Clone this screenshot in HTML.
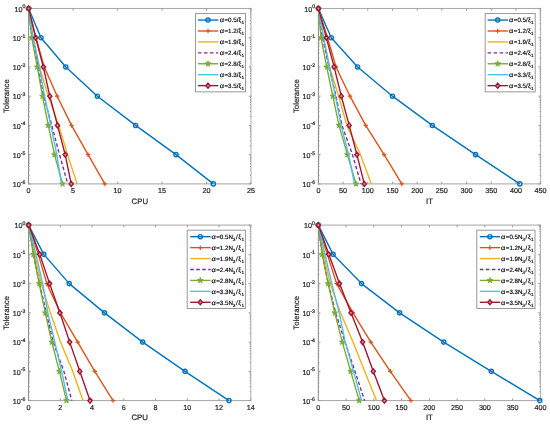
<!DOCTYPE html>
<html><head><meta charset="utf-8"><title>Tolerance plots</title>
<style>html,body{margin:0;padding:0;background:#fff}svg{display:block;text-rendering:geometricPrecision}</style>
</head><body>
<svg width="550" height="424" viewBox="0 0 550 424">
<rect width="550" height="424" fill="#fff"/>
<g stroke="#999999" stroke-width="1.0" fill="none">
<path d="M28.6 7.95V184.4" stroke="#858585"/>
<path d="M28.6 8.45H251.5M28.6 183.9H251.5" stroke="#a4a4a4"/>
<path d="M251 8.45V183.9" stroke="#adadad"/>
<path d="M28.6 183.9v-2.2M28.6 8.45v2.2M73.08 183.9v-2.2M73.08 8.45v2.2M117.56 183.9v-2.2M117.56 8.45v2.2M162.04 183.9v-2.2M162.04 8.45v2.2M206.52 183.9v-2.2M206.52 8.45v2.2M251 183.9v-2.2M251 8.45v2.2M28.6 8.45h2.2M251 8.45h-2.2M28.6 28.89h1.1M251 28.89h-1.1M28.6 23.74h1.1M251 23.74h-1.1M28.6 20.09h1.1M251 20.09h-1.1M28.6 17.25h1.1M251 17.25h-1.1M28.6 14.94h1.1M251 14.94h-1.1M28.6 12.98h1.1M251 12.98h-1.1M28.6 11.28h1.1M251 11.28h-1.1M28.6 9.79h1.1M251 9.79h-1.1M28.6 37.69h2.2M251 37.69h-2.2M28.6 58.13h1.1M251 58.13h-1.1M28.6 52.98h1.1M251 52.98h-1.1M28.6 49.33h1.1M251 49.33h-1.1M28.6 46.49h1.1M251 46.49h-1.1M28.6 44.18h1.1M251 44.18h-1.1M28.6 42.22h1.1M251 42.22h-1.1M28.6 40.53h1.1M251 40.53h-1.1M28.6 39.03h1.1M251 39.03h-1.1M28.6 66.93h2.2M251 66.93h-2.2M28.6 87.37h1.1M251 87.37h-1.1M28.6 82.22h1.1M251 82.22h-1.1M28.6 78.57h1.1M251 78.57h-1.1M28.6 75.74h1.1M251 75.74h-1.1M28.6 73.42h1.1M251 73.42h-1.1M28.6 71.46h1.1M251 71.46h-1.1M28.6 69.77h1.1M251 69.77h-1.1M28.6 68.27h1.1M251 68.27h-1.1M28.6 96.18h2.2M251 96.18h-2.2M28.6 116.61h1.1M251 116.61h-1.1M28.6 111.46h1.1M251 111.46h-1.1M28.6 107.81h1.1M251 107.81h-1.1M28.6 104.98h1.1M251 104.98h-1.1M28.6 102.66h1.1M251 102.66h-1.1M28.6 100.7h1.1M251 100.7h-1.1M28.6 99.01h1.1M251 99.01h-1.1M28.6 97.51h1.1M251 97.51h-1.1M28.6 125.42h2.2M251 125.42h-2.2M28.6 145.86h1.1M251 145.86h-1.1M28.6 140.71h1.1M251 140.71h-1.1M28.6 137.05h1.1M251 137.05h-1.1M28.6 134.22h1.1M251 134.22h-1.1M28.6 131.9h1.1M251 131.9h-1.1M28.6 129.95h1.1M251 129.95h-1.1M28.6 128.25h1.1M251 128.25h-1.1M28.6 126.75h1.1M251 126.75h-1.1M28.6 154.66h2.2M251 154.66h-2.2M28.6 175.1h1.1M251 175.1h-1.1M28.6 169.95h1.1M251 169.95h-1.1M28.6 166.29h1.1M251 166.29h-1.1M28.6 163.46h1.1M251 163.46h-1.1M28.6 161.15h1.1M251 161.15h-1.1M28.6 159.19h1.1M251 159.19h-1.1M28.6 157.49h1.1M251 157.49h-1.1M28.6 156h1.1M251 156h-1.1M28.6 183.9h2.2M251 183.9h-2.2"/>
</g>
<g font-family="Liberation Sans, Arial, Helvetica, sans-serif" fill="#262626" stroke="#262626" stroke-width="0.2" font-size="7.2">
<text x="28.6" y="193.4" text-anchor="middle">0</text>
<text x="73.08" y="193.4" text-anchor="middle">5</text>
<text x="117.56" y="193.4" text-anchor="middle">10</text>
<text x="162.04" y="193.4" text-anchor="middle">15</text>
<text x="206.52" y="193.4" text-anchor="middle">20</text>
<text x="251" y="193.4" text-anchor="middle">25</text>
<text x="25.3" y="11.65" text-anchor="end">10<tspan font-size="5.2" dy="-3.3">0</tspan></text>
<text x="25.3" y="40.89" text-anchor="end">10<tspan font-size="5.2" dy="-3.3">-1</tspan></text>
<text x="25.3" y="70.13" text-anchor="end">10<tspan font-size="5.2" dy="-3.3">-2</tspan></text>
<text x="25.3" y="99.38" text-anchor="end">10<tspan font-size="5.2" dy="-3.3">-3</tspan></text>
<text x="25.3" y="128.62" text-anchor="end">10<tspan font-size="5.2" dy="-3.3">-4</tspan></text>
<text x="25.3" y="157.86" text-anchor="end">10<tspan font-size="5.2" dy="-3.3">-5</tspan></text>
<text x="25.3" y="187.1" text-anchor="end">10<tspan font-size="5.2" dy="-3.3">-6</tspan></text>
</g>
<g font-family="Liberation Sans, Arial, Helvetica, sans-serif" fill="#262626" stroke="#262626" stroke-width="0.2" font-size="7.8">
<text x="139.8" y="203.5" text-anchor="middle">CPU</text>
<text transform="translate(8.7 96.17) rotate(-90)" text-anchor="middle">Tolerance</text>
</g>
<polyline points="28.6,8.45 41,37.69 65.8,66.93 97.4,96.18 135.6,125.42 176,154.66 213.3,183.9" fill="none" stroke="#0072BD" stroke-width="1.38" stroke-linejoin="round"/>
<circle cx="28.6" cy="8.45" r="2.1" fill="none" stroke="#0072BD" stroke-width="1.38"/>
<circle cx="41" cy="37.69" r="2.1" fill="none" stroke="#0072BD" stroke-width="1.38"/>
<circle cx="65.8" cy="66.93" r="2.1" fill="none" stroke="#0072BD" stroke-width="1.38"/>
<circle cx="97.4" cy="96.18" r="2.1" fill="none" stroke="#0072BD" stroke-width="1.38"/>
<circle cx="135.6" cy="125.42" r="2.1" fill="none" stroke="#0072BD" stroke-width="1.38"/>
<circle cx="176" cy="154.66" r="2.1" fill="none" stroke="#0072BD" stroke-width="1.38"/>
<circle cx="213.3" cy="183.9" r="2.1" fill="none" stroke="#0072BD" stroke-width="1.38"/>
<polyline points="28.6,8.45 35.9,37.69 44.2,66.93 57.2,96.18 71.5,125.42 88.1,154.66 104.8,183.9" fill="none" stroke="#D95319" stroke-width="1.38" stroke-linejoin="round"/>
<path d="M26.35 8.45H30.85M28.6 6.2V10.7" stroke="#D95319" stroke-width="1.15" fill="none"/>
<path d="M33.65 37.69H38.15M35.9 35.44V39.94" stroke="#D95319" stroke-width="1.15" fill="none"/>
<path d="M41.95 66.93H46.45M44.2 64.68V69.18" stroke="#D95319" stroke-width="1.15" fill="none"/>
<path d="M54.95 96.18H59.45M57.2 93.93V98.43" stroke="#D95319" stroke-width="1.15" fill="none"/>
<path d="M69.25 125.42H73.75M71.5 123.17V127.67" stroke="#D95319" stroke-width="1.15" fill="none"/>
<path d="M85.85 154.66H90.35M88.1 152.41V156.91" stroke="#D95319" stroke-width="1.15" fill="none"/>
<path d="M102.55 183.9H107.05M104.8 181.65V186.15" stroke="#D95319" stroke-width="1.15" fill="none"/>
<polyline points="28.6,8.45 33.1,37.69 39.4,66.93 48.4,96.18 58.8,125.42 67.5,154.66 77.2,183.9" fill="none" stroke="#EDB120" stroke-width="1.38" stroke-linejoin="round"/>
<polyline points="28.6,8.45 32.5,37.69 38.3,66.93 43.7,96.18 51.8,125.42 59.5,154.66 67.8,183.9" fill="none" stroke="#7E2F8E" stroke-width="1.38" stroke-linejoin="round" stroke-dasharray="3.6 2.4"/>
<polyline points="28.6,8.45 31.7,37.69 37.3,66.93 42.5,96.18 48.3,125.42 54.5,154.66 62.5,183.9" fill="none" stroke="#77AC30" stroke-width="1.38" stroke-linejoin="round"/>
<polygon points="28.6,5.45 29.27,7.52 31.45,7.52 29.69,8.8 30.36,10.88 28.6,9.6 26.84,10.88 27.51,8.8 25.75,7.52 27.93,7.52" fill="#77AC30" stroke="#77AC30" stroke-width="0.9" stroke-linejoin="miter"/>
<polygon points="31.7,34.69 32.37,36.76 34.55,36.76 32.79,38.05 33.46,40.12 31.7,38.84 29.94,40.12 30.61,38.05 28.85,36.76 31.03,36.76" fill="#77AC30" stroke="#77AC30" stroke-width="0.9" stroke-linejoin="miter"/>
<polygon points="37.3,63.93 37.97,66.01 40.15,66.01 38.39,67.29 39.06,69.36 37.3,68.08 35.54,69.36 36.21,67.29 34.45,66.01 36.63,66.01" fill="#77AC30" stroke="#77AC30" stroke-width="0.9" stroke-linejoin="miter"/>
<polygon points="42.5,93.18 43.17,95.25 45.35,95.25 43.59,96.53 44.26,98.6 42.5,97.32 40.74,98.6 41.41,96.53 39.65,95.25 41.83,95.25" fill="#77AC30" stroke="#77AC30" stroke-width="0.9" stroke-linejoin="miter"/>
<polygon points="48.3,122.42 48.97,124.49 51.15,124.49 49.39,125.77 50.06,127.84 48.3,126.56 46.54,127.84 47.21,125.77 45.45,124.49 47.63,124.49" fill="#77AC30" stroke="#77AC30" stroke-width="0.9" stroke-linejoin="miter"/>
<polygon points="54.5,151.66 55.17,153.73 57.35,153.73 55.59,155.01 56.26,157.09 54.5,155.8 52.74,157.09 53.41,155.01 51.65,153.73 53.83,153.73" fill="#77AC30" stroke="#77AC30" stroke-width="0.9" stroke-linejoin="miter"/>
<polygon points="62.5,180.9 63.17,182.97 65.35,182.97 63.59,184.25 64.26,186.33 62.5,185.05 60.74,186.33 61.41,184.25 59.65,182.97 61.83,182.97" fill="#77AC30" stroke="#77AC30" stroke-width="0.9" stroke-linejoin="miter"/>
<polyline points="28.6,8.45 33.1,37.69 39.3,66.93 44.6,96.18 50.8,125.42 56.8,154.66 61.5,183.9" fill="none" stroke="#4DBEEE" stroke-width="1.38" stroke-linejoin="round"/>
<polyline points="28.6,8.45 35.7,37.69 43.3,66.93 49.8,96.18 57.5,125.42 65.2,154.66 71.2,183.9" fill="none" stroke="#A2142F" stroke-width="1.38" stroke-linejoin="round"/>
<path d="M28.6 5.95L30.7 8.45L28.6 10.95L26.5 8.45Z" fill="#d4909b" stroke="#A2142F" stroke-width="1.38" stroke-linejoin="miter"/>
<path d="M35.7 35.19L37.8 37.69L35.7 40.19L33.6 37.69Z" fill="#d4909b" stroke="#A2142F" stroke-width="1.38" stroke-linejoin="miter"/>
<path d="M43.3 64.43L45.4 66.93L43.3 69.43L41.2 66.93Z" fill="#d4909b" stroke="#A2142F" stroke-width="1.38" stroke-linejoin="miter"/>
<path d="M49.8 93.68L51.9 96.18L49.8 98.68L47.7 96.18Z" fill="#d4909b" stroke="#A2142F" stroke-width="1.38" stroke-linejoin="miter"/>
<path d="M57.5 122.92L59.6 125.42L57.5 127.92L55.4 125.42Z" fill="#d4909b" stroke="#A2142F" stroke-width="1.38" stroke-linejoin="miter"/>
<path d="M65.2 152.16L67.3 154.66L65.2 157.16L63.1 154.66Z" fill="#d4909b" stroke="#A2142F" stroke-width="1.38" stroke-linejoin="miter"/>
<path d="M71.2 181.4L73.3 183.9L71.2 186.4L69.1 183.9Z" fill="#d4909b" stroke="#A2142F" stroke-width="1.38" stroke-linejoin="miter"/>
<rect x="195.5" y="13.55" width="50" height="78.3" fill="#fff" stroke="#999999" stroke-width="1.0"/>
<path d="M197.9 20.05H218.3" stroke="#0072BD" stroke-width="1.38"/>
<circle cx="208" cy="20.05" r="2.1" fill="none" stroke="#0072BD" stroke-width="1.38"/>
<text font-family="Liberation Sans, Arial, Helvetica, sans-serif" font-size="6.2" fill="#000" stroke="#000" stroke-width="0.15" y="22.35"><tspan x="219.8" font-size="6.5" textLength="4.3" lengthAdjust="spacingAndGlyphs">α</tspan><tspan x="224.5">=0.5/</tspan><tspan x="238.6">ξ</tspan><tspan x="241.6" dy="2.0" font-size="4.7">1</tspan></text>
<path d="M197.9 30.98H218.3" stroke="#D95319" stroke-width="1.38"/>
<path d="M205.75 30.98H210.25M208 28.73V33.23" stroke="#D95319" stroke-width="1.15" fill="none"/>
<text font-family="Liberation Sans, Arial, Helvetica, sans-serif" font-size="6.2" fill="#000" stroke="#000" stroke-width="0.15" y="33.28"><tspan x="219.8" font-size="6.5" textLength="4.3" lengthAdjust="spacingAndGlyphs">α</tspan><tspan x="224.5">=1.2/</tspan><tspan x="238.6">ξ</tspan><tspan x="241.6" dy="2.0" font-size="4.7">1</tspan></text>
<path d="M197.9 41.91H218.3" stroke="#EDB120" stroke-width="1.38"/>
<text font-family="Liberation Sans, Arial, Helvetica, sans-serif" font-size="6.2" fill="#000" stroke="#000" stroke-width="0.15" y="44.21"><tspan x="219.8" font-size="6.5" textLength="4.3" lengthAdjust="spacingAndGlyphs">α</tspan><tspan x="224.5">=1.9/</tspan><tspan x="238.6">ξ</tspan><tspan x="241.6" dy="2.0" font-size="4.7">1</tspan></text>
<path d="M197.9 52.84H218.3" stroke="#7E2F8E" stroke-width="1.38" stroke-dasharray="3.6 2.4"/>
<text font-family="Liberation Sans, Arial, Helvetica, sans-serif" font-size="6.2" fill="#000" stroke="#000" stroke-width="0.15" y="55.14"><tspan x="219.8" font-size="6.5" textLength="4.3" lengthAdjust="spacingAndGlyphs">α</tspan><tspan x="224.5">=2.4/</tspan><tspan x="238.6">ξ</tspan><tspan x="241.6" dy="2.0" font-size="4.7">1</tspan></text>
<path d="M197.9 63.77H218.3" stroke="#77AC30" stroke-width="1.38"/>
<polygon points="208,60.77 208.67,62.84 210.85,62.84 209.09,64.12 209.76,66.2 208,64.92 206.24,66.2 206.91,64.12 205.15,62.84 207.33,62.84" fill="#77AC30" stroke="#77AC30" stroke-width="0.9" stroke-linejoin="miter"/>
<text font-family="Liberation Sans, Arial, Helvetica, sans-serif" font-size="6.2" fill="#000" stroke="#000" stroke-width="0.15" y="66.07"><tspan x="219.8" font-size="6.5" textLength="4.3" lengthAdjust="spacingAndGlyphs">α</tspan><tspan x="224.5">=2.8/</tspan><tspan x="238.6">ξ</tspan><tspan x="241.6" dy="2.0" font-size="4.7">1</tspan></text>
<path d="M197.9 74.7H218.3" stroke="#4DBEEE" stroke-width="1.38"/>
<text font-family="Liberation Sans, Arial, Helvetica, sans-serif" font-size="6.2" fill="#000" stroke="#000" stroke-width="0.15" y="77"><tspan x="219.8" font-size="6.5" textLength="4.3" lengthAdjust="spacingAndGlyphs">α</tspan><tspan x="224.5">=3.3/</tspan><tspan x="238.6">ξ</tspan><tspan x="241.6" dy="2.0" font-size="4.7">1</tspan></text>
<path d="M197.9 85.63H218.3" stroke="#A2142F" stroke-width="1.38"/>
<path d="M208 83.13L210.1 85.63L208 88.13L205.9 85.63Z" fill="#d4909b" stroke="#A2142F" stroke-width="1.38" stroke-linejoin="miter"/>
<text font-family="Liberation Sans, Arial, Helvetica, sans-serif" font-size="6.2" fill="#000" stroke="#000" stroke-width="0.15" y="87.93"><tspan x="219.8" font-size="6.5" textLength="4.3" lengthAdjust="spacingAndGlyphs">α</tspan><tspan x="224.5">=3.5/</tspan><tspan x="238.6">ξ</tspan><tspan x="241.6" dy="2.0" font-size="4.7">1</tspan></text>
<g stroke="#999999" stroke-width="1.0" fill="none">
<path d="M318.4 7.95V184.4" stroke="#858585"/>
<path d="M318.4 8.45H541.1M318.4 183.9H541.1" stroke="#a4a4a4"/>
<path d="M540.6 8.45V183.9" stroke="#adadad"/>
<path d="M318.4 183.9v-2.2M318.4 8.45v2.2M343.09 183.9v-2.2M343.09 8.45v2.2M367.78 183.9v-2.2M367.78 8.45v2.2M392.47 183.9v-2.2M392.47 8.45v2.2M417.16 183.9v-2.2M417.16 8.45v2.2M441.84 183.9v-2.2M441.84 8.45v2.2M466.53 183.9v-2.2M466.53 8.45v2.2M491.22 183.9v-2.2M491.22 8.45v2.2M515.91 183.9v-2.2M515.91 8.45v2.2M540.6 183.9v-2.2M540.6 8.45v2.2M318.4 8.45h2.2M540.6 8.45h-2.2M318.4 28.89h1.1M540.6 28.89h-1.1M318.4 23.74h1.1M540.6 23.74h-1.1M318.4 20.09h1.1M540.6 20.09h-1.1M318.4 17.25h1.1M540.6 17.25h-1.1M318.4 14.94h1.1M540.6 14.94h-1.1M318.4 12.98h1.1M540.6 12.98h-1.1M318.4 11.28h1.1M540.6 11.28h-1.1M318.4 9.79h1.1M540.6 9.79h-1.1M318.4 37.69h2.2M540.6 37.69h-2.2M318.4 58.13h1.1M540.6 58.13h-1.1M318.4 52.98h1.1M540.6 52.98h-1.1M318.4 49.33h1.1M540.6 49.33h-1.1M318.4 46.49h1.1M540.6 46.49h-1.1M318.4 44.18h1.1M540.6 44.18h-1.1M318.4 42.22h1.1M540.6 42.22h-1.1M318.4 40.53h1.1M540.6 40.53h-1.1M318.4 39.03h1.1M540.6 39.03h-1.1M318.4 66.93h2.2M540.6 66.93h-2.2M318.4 87.37h1.1M540.6 87.37h-1.1M318.4 82.22h1.1M540.6 82.22h-1.1M318.4 78.57h1.1M540.6 78.57h-1.1M318.4 75.74h1.1M540.6 75.74h-1.1M318.4 73.42h1.1M540.6 73.42h-1.1M318.4 71.46h1.1M540.6 71.46h-1.1M318.4 69.77h1.1M540.6 69.77h-1.1M318.4 68.27h1.1M540.6 68.27h-1.1M318.4 96.18h2.2M540.6 96.18h-2.2M318.4 116.61h1.1M540.6 116.61h-1.1M318.4 111.46h1.1M540.6 111.46h-1.1M318.4 107.81h1.1M540.6 107.81h-1.1M318.4 104.98h1.1M540.6 104.98h-1.1M318.4 102.66h1.1M540.6 102.66h-1.1M318.4 100.7h1.1M540.6 100.7h-1.1M318.4 99.01h1.1M540.6 99.01h-1.1M318.4 97.51h1.1M540.6 97.51h-1.1M318.4 125.42h2.2M540.6 125.42h-2.2M318.4 145.86h1.1M540.6 145.86h-1.1M318.4 140.71h1.1M540.6 140.71h-1.1M318.4 137.05h1.1M540.6 137.05h-1.1M318.4 134.22h1.1M540.6 134.22h-1.1M318.4 131.9h1.1M540.6 131.9h-1.1M318.4 129.95h1.1M540.6 129.95h-1.1M318.4 128.25h1.1M540.6 128.25h-1.1M318.4 126.75h1.1M540.6 126.75h-1.1M318.4 154.66h2.2M540.6 154.66h-2.2M318.4 175.1h1.1M540.6 175.1h-1.1M318.4 169.95h1.1M540.6 169.95h-1.1M318.4 166.29h1.1M540.6 166.29h-1.1M318.4 163.46h1.1M540.6 163.46h-1.1M318.4 161.15h1.1M540.6 161.15h-1.1M318.4 159.19h1.1M540.6 159.19h-1.1M318.4 157.49h1.1M540.6 157.49h-1.1M318.4 156h1.1M540.6 156h-1.1M318.4 183.9h2.2M540.6 183.9h-2.2"/>
</g>
<g font-family="Liberation Sans, Arial, Helvetica, sans-serif" fill="#262626" stroke="#262626" stroke-width="0.2" font-size="7.2">
<text x="318.4" y="193.4" text-anchor="middle">0</text>
<text x="343.09" y="193.4" text-anchor="middle">50</text>
<text x="367.78" y="193.4" text-anchor="middle">100</text>
<text x="392.47" y="193.4" text-anchor="middle">150</text>
<text x="417.16" y="193.4" text-anchor="middle">200</text>
<text x="441.84" y="193.4" text-anchor="middle">250</text>
<text x="466.53" y="193.4" text-anchor="middle">300</text>
<text x="491.22" y="193.4" text-anchor="middle">350</text>
<text x="515.91" y="193.4" text-anchor="middle">400</text>
<text x="540.6" y="193.4" text-anchor="middle">450</text>
<text x="315.1" y="11.65" text-anchor="end">10<tspan font-size="5.2" dy="-3.3">0</tspan></text>
<text x="315.1" y="40.89" text-anchor="end">10<tspan font-size="5.2" dy="-3.3">-1</tspan></text>
<text x="315.1" y="70.13" text-anchor="end">10<tspan font-size="5.2" dy="-3.3">-2</tspan></text>
<text x="315.1" y="99.38" text-anchor="end">10<tspan font-size="5.2" dy="-3.3">-3</tspan></text>
<text x="315.1" y="128.62" text-anchor="end">10<tspan font-size="5.2" dy="-3.3">-4</tspan></text>
<text x="315.1" y="157.86" text-anchor="end">10<tspan font-size="5.2" dy="-3.3">-5</tspan></text>
<text x="315.1" y="187.1" text-anchor="end">10<tspan font-size="5.2" dy="-3.3">-6</tspan></text>
</g>
<g font-family="Liberation Sans, Arial, Helvetica, sans-serif" fill="#262626" stroke="#262626" stroke-width="0.2" font-size="7.8">
<text x="429.5" y="203.5" text-anchor="middle">IT</text>
<text transform="translate(298.5 96.17) rotate(-90)" text-anchor="middle">Tolerance</text>
</g>
<polyline points="318.4,8.45 331.3,37.69 357.6,66.93 392.5,96.18 432.3,125.42 475.6,154.66 519.8,183.9" fill="none" stroke="#0072BD" stroke-width="1.38" stroke-linejoin="round"/>
<circle cx="318.4" cy="8.45" r="2.1" fill="none" stroke="#0072BD" stroke-width="1.38"/>
<circle cx="331.3" cy="37.69" r="2.1" fill="none" stroke="#0072BD" stroke-width="1.38"/>
<circle cx="357.6" cy="66.93" r="2.1" fill="none" stroke="#0072BD" stroke-width="1.38"/>
<circle cx="392.5" cy="96.18" r="2.1" fill="none" stroke="#0072BD" stroke-width="1.38"/>
<circle cx="432.3" cy="125.42" r="2.1" fill="none" stroke="#0072BD" stroke-width="1.38"/>
<circle cx="475.6" cy="154.66" r="2.1" fill="none" stroke="#0072BD" stroke-width="1.38"/>
<circle cx="519.8" cy="183.9" r="2.1" fill="none" stroke="#0072BD" stroke-width="1.38"/>
<polyline points="318.4,8.45 327.5,37.69 336,66.93 350,96.18 365.7,125.42 384.1,154.66 401.8,183.9" fill="none" stroke="#D95319" stroke-width="1.38" stroke-linejoin="round"/>
<path d="M316.15 8.45H320.65M318.4 6.2V10.7" stroke="#D95319" stroke-width="1.15" fill="none"/>
<path d="M325.25 37.69H329.75M327.5 35.44V39.94" stroke="#D95319" stroke-width="1.15" fill="none"/>
<path d="M333.75 66.93H338.25M336 64.68V69.18" stroke="#D95319" stroke-width="1.15" fill="none"/>
<path d="M347.75 96.18H352.25M350 93.93V98.43" stroke="#D95319" stroke-width="1.15" fill="none"/>
<path d="M363.45 125.42H367.95M365.7 123.17V127.67" stroke="#D95319" stroke-width="1.15" fill="none"/>
<path d="M381.85 154.66H386.35M384.1 152.41V156.91" stroke="#D95319" stroke-width="1.15" fill="none"/>
<path d="M399.55 183.9H404.05M401.8 181.65V186.15" stroke="#D95319" stroke-width="1.15" fill="none"/>
<polyline points="318.4,8.45 323.5,37.69 329.6,66.93 338.6,96.18 346.8,125.42 360.5,154.66 371.3,183.9" fill="none" stroke="#EDB120" stroke-width="1.38" stroke-linejoin="round"/>
<polyline points="318.4,8.45 322.5,37.69 329,66.93 336,96.18 342,125.42 352.5,154.66 361,183.9" fill="none" stroke="#7E2F8E" stroke-width="1.38" stroke-linejoin="round" stroke-dasharray="3.6 2.4"/>
<polyline points="318.4,8.45 321,37.69 326.7,66.93 332.8,96.18 339,125.42 347.4,154.66 356,183.9" fill="none" stroke="#77AC30" stroke-width="1.38" stroke-linejoin="round"/>
<polygon points="318.4,5.45 319.07,7.52 321.25,7.52 319.49,8.8 320.16,10.88 318.4,9.6 316.64,10.88 317.31,8.8 315.55,7.52 317.73,7.52" fill="#77AC30" stroke="#77AC30" stroke-width="0.9" stroke-linejoin="miter"/>
<polygon points="321,34.69 321.67,36.76 323.85,36.76 322.09,38.05 322.76,40.12 321,38.84 319.24,40.12 319.91,38.05 318.15,36.76 320.33,36.76" fill="#77AC30" stroke="#77AC30" stroke-width="0.9" stroke-linejoin="miter"/>
<polygon points="326.7,63.93 327.37,66.01 329.55,66.01 327.79,67.29 328.46,69.36 326.7,68.08 324.94,69.36 325.61,67.29 323.85,66.01 326.03,66.01" fill="#77AC30" stroke="#77AC30" stroke-width="0.9" stroke-linejoin="miter"/>
<polygon points="332.8,93.18 333.47,95.25 335.65,95.25 333.89,96.53 334.56,98.6 332.8,97.32 331.04,98.6 331.71,96.53 329.95,95.25 332.13,95.25" fill="#77AC30" stroke="#77AC30" stroke-width="0.9" stroke-linejoin="miter"/>
<polygon points="339,122.42 339.67,124.49 341.85,124.49 340.09,125.77 340.76,127.84 339,126.56 337.24,127.84 337.91,125.77 336.15,124.49 338.33,124.49" fill="#77AC30" stroke="#77AC30" stroke-width="0.9" stroke-linejoin="miter"/>
<polygon points="347.4,151.66 348.07,153.73 350.25,153.73 348.49,155.01 349.16,157.09 347.4,155.8 345.64,157.09 346.31,155.01 344.55,153.73 346.73,153.73" fill="#77AC30" stroke="#77AC30" stroke-width="0.9" stroke-linejoin="miter"/>
<polygon points="356,180.9 356.67,182.97 358.85,182.97 357.09,184.25 357.76,186.33 356,185.05 354.24,186.33 354.91,184.25 353.15,182.97 355.33,182.97" fill="#77AC30" stroke="#77AC30" stroke-width="0.9" stroke-linejoin="miter"/>
<polyline points="318.4,8.45 323.5,37.69 329.4,66.93 335.4,96.18 341.1,125.42 348.6,154.66 354.5,183.9" fill="none" stroke="#4DBEEE" stroke-width="1.38" stroke-linejoin="round"/>
<polyline points="318.4,8.45 326.3,37.69 334.1,66.93 341.3,96.18 349.2,125.42 356.9,154.66 364.3,183.9" fill="none" stroke="#A2142F" stroke-width="1.38" stroke-linejoin="round"/>
<path d="M318.4 5.95L320.5 8.45L318.4 10.95L316.3 8.45Z" fill="#d4909b" stroke="#A2142F" stroke-width="1.38" stroke-linejoin="miter"/>
<path d="M326.3 35.19L328.4 37.69L326.3 40.19L324.2 37.69Z" fill="#d4909b" stroke="#A2142F" stroke-width="1.38" stroke-linejoin="miter"/>
<path d="M334.1 64.43L336.2 66.93L334.1 69.43L332 66.93Z" fill="#d4909b" stroke="#A2142F" stroke-width="1.38" stroke-linejoin="miter"/>
<path d="M341.3 93.68L343.4 96.18L341.3 98.68L339.2 96.18Z" fill="#d4909b" stroke="#A2142F" stroke-width="1.38" stroke-linejoin="miter"/>
<path d="M349.2 122.92L351.3 125.42L349.2 127.92L347.1 125.42Z" fill="#d4909b" stroke="#A2142F" stroke-width="1.38" stroke-linejoin="miter"/>
<path d="M356.9 152.16L359 154.66L356.9 157.16L354.8 154.66Z" fill="#d4909b" stroke="#A2142F" stroke-width="1.38" stroke-linejoin="miter"/>
<path d="M364.3 181.4L366.4 183.9L364.3 186.4L362.2 183.9Z" fill="#d4909b" stroke="#A2142F" stroke-width="1.38" stroke-linejoin="miter"/>
<rect x="485.2" y="13.55" width="50" height="78.3" fill="#fff" stroke="#999999" stroke-width="1.0"/>
<path d="M487.6 20.05H508" stroke="#0072BD" stroke-width="1.38"/>
<circle cx="497.7" cy="20.05" r="2.1" fill="none" stroke="#0072BD" stroke-width="1.38"/>
<text font-family="Liberation Sans, Arial, Helvetica, sans-serif" font-size="6.2" fill="#000" stroke="#000" stroke-width="0.15" y="22.35"><tspan x="509.1" font-size="6.5" textLength="4.3" lengthAdjust="spacingAndGlyphs">α</tspan><tspan x="513.8">=0.5/</tspan><tspan x="527.9">ξ</tspan><tspan x="530.9" dy="2.0" font-size="4.7">1</tspan></text>
<path d="M487.6 30.98H508" stroke="#D95319" stroke-width="1.38"/>
<path d="M495.45 30.98H499.95M497.7 28.73V33.23" stroke="#D95319" stroke-width="1.15" fill="none"/>
<text font-family="Liberation Sans, Arial, Helvetica, sans-serif" font-size="6.2" fill="#000" stroke="#000" stroke-width="0.15" y="33.28"><tspan x="509.1" font-size="6.5" textLength="4.3" lengthAdjust="spacingAndGlyphs">α</tspan><tspan x="513.8">=1.2/</tspan><tspan x="527.9">ξ</tspan><tspan x="530.9" dy="2.0" font-size="4.7">1</tspan></text>
<path d="M487.6 41.91H508" stroke="#EDB120" stroke-width="1.38"/>
<text font-family="Liberation Sans, Arial, Helvetica, sans-serif" font-size="6.2" fill="#000" stroke="#000" stroke-width="0.15" y="44.21"><tspan x="509.1" font-size="6.5" textLength="4.3" lengthAdjust="spacingAndGlyphs">α</tspan><tspan x="513.8">=1.9/</tspan><tspan x="527.9">ξ</tspan><tspan x="530.9" dy="2.0" font-size="4.7">1</tspan></text>
<path d="M487.6 52.84H508" stroke="#7E2F8E" stroke-width="1.38" stroke-dasharray="3.6 2.4"/>
<text font-family="Liberation Sans, Arial, Helvetica, sans-serif" font-size="6.2" fill="#000" stroke="#000" stroke-width="0.15" y="55.14"><tspan x="509.1" font-size="6.5" textLength="4.3" lengthAdjust="spacingAndGlyphs">α</tspan><tspan x="513.8">=2.4/</tspan><tspan x="527.9">ξ</tspan><tspan x="530.9" dy="2.0" font-size="4.7">1</tspan></text>
<path d="M487.6 63.77H508" stroke="#77AC30" stroke-width="1.38"/>
<polygon points="497.7,60.77 498.37,62.84 500.55,62.84 498.79,64.12 499.46,66.2 497.7,64.92 495.94,66.2 496.61,64.12 494.85,62.84 497.03,62.84" fill="#77AC30" stroke="#77AC30" stroke-width="0.9" stroke-linejoin="miter"/>
<text font-family="Liberation Sans, Arial, Helvetica, sans-serif" font-size="6.2" fill="#000" stroke="#000" stroke-width="0.15" y="66.07"><tspan x="509.1" font-size="6.5" textLength="4.3" lengthAdjust="spacingAndGlyphs">α</tspan><tspan x="513.8">=2.8/</tspan><tspan x="527.9">ξ</tspan><tspan x="530.9" dy="2.0" font-size="4.7">1</tspan></text>
<path d="M487.6 74.7H508" stroke="#4DBEEE" stroke-width="1.38"/>
<text font-family="Liberation Sans, Arial, Helvetica, sans-serif" font-size="6.2" fill="#000" stroke="#000" stroke-width="0.15" y="77"><tspan x="509.1" font-size="6.5" textLength="4.3" lengthAdjust="spacingAndGlyphs">α</tspan><tspan x="513.8">=3.3/</tspan><tspan x="527.9">ξ</tspan><tspan x="530.9" dy="2.0" font-size="4.7">1</tspan></text>
<path d="M487.6 85.63H508" stroke="#A2142F" stroke-width="1.38"/>
<path d="M497.7 83.13L499.8 85.63L497.7 88.13L495.6 85.63Z" fill="#d4909b" stroke="#A2142F" stroke-width="1.38" stroke-linejoin="miter"/>
<text font-family="Liberation Sans, Arial, Helvetica, sans-serif" font-size="6.2" fill="#000" stroke="#000" stroke-width="0.15" y="87.93"><tspan x="509.1" font-size="6.5" textLength="4.3" lengthAdjust="spacingAndGlyphs">α</tspan><tspan x="513.8">=3.5/</tspan><tspan x="527.9">ξ</tspan><tspan x="530.9" dy="2.0" font-size="4.7">1</tspan></text>
<g stroke="#999999" stroke-width="1.0" fill="none">
<path d="M28.6 224.6V401.1" stroke="#858585"/>
<path d="M28.6 225.1H251.3M28.6 400.6H251.3" stroke="#a4a4a4"/>
<path d="M250.8 225.1V400.6" stroke="#adadad"/>
<path d="M28.6 400.6v-2.2M28.6 225.1v2.2M60.34 400.6v-2.2M60.34 225.1v2.2M92.09 400.6v-2.2M92.09 225.1v2.2M123.83 400.6v-2.2M123.83 225.1v2.2M155.57 400.6v-2.2M155.57 225.1v2.2M187.31 400.6v-2.2M187.31 225.1v2.2M219.06 400.6v-2.2M219.06 225.1v2.2M250.8 400.6v-2.2M250.8 225.1v2.2M28.6 225.1h2.2M250.8 225.1h-2.2M28.6 245.54h1.1M250.8 245.54h-1.1M28.6 240.39h1.1M250.8 240.39h-1.1M28.6 236.74h1.1M250.8 236.74h-1.1M28.6 233.91h1.1M250.8 233.91h-1.1M28.6 231.59h1.1M250.8 231.59h-1.1M28.6 229.63h1.1M250.8 229.63h-1.1M28.6 227.93h1.1M250.8 227.93h-1.1M28.6 226.44h1.1M250.8 226.44h-1.1M28.6 254.35h2.2M250.8 254.35h-2.2M28.6 274.79h1.1M250.8 274.79h-1.1M28.6 269.64h1.1M250.8 269.64h-1.1M28.6 265.99h1.1M250.8 265.99h-1.1M28.6 263.16h1.1M250.8 263.16h-1.1M28.6 260.84h1.1M250.8 260.84h-1.1M28.6 258.88h1.1M250.8 258.88h-1.1M28.6 257.18h1.1M250.8 257.18h-1.1M28.6 255.69h1.1M250.8 255.69h-1.1M28.6 283.6h2.2M250.8 283.6h-2.2M28.6 304.04h1.1M250.8 304.04h-1.1M28.6 298.89h1.1M250.8 298.89h-1.1M28.6 295.24h1.1M250.8 295.24h-1.1M28.6 292.41h1.1M250.8 292.41h-1.1M28.6 290.09h1.1M250.8 290.09h-1.1M28.6 288.13h1.1M250.8 288.13h-1.1M28.6 286.43h1.1M250.8 286.43h-1.1M28.6 284.94h1.1M250.8 284.94h-1.1M28.6 312.85h2.2M250.8 312.85h-2.2M28.6 333.29h1.1M250.8 333.29h-1.1M28.6 328.14h1.1M250.8 328.14h-1.1M28.6 324.49h1.1M250.8 324.49h-1.1M28.6 321.66h1.1M250.8 321.66h-1.1M28.6 319.34h1.1M250.8 319.34h-1.1M28.6 317.38h1.1M250.8 317.38h-1.1M28.6 315.68h1.1M250.8 315.68h-1.1M28.6 314.19h1.1M250.8 314.19h-1.1M28.6 342.1h2.2M250.8 342.1h-2.2M28.6 362.54h1.1M250.8 362.54h-1.1M28.6 357.39h1.1M250.8 357.39h-1.1M28.6 353.74h1.1M250.8 353.74h-1.1M28.6 350.91h1.1M250.8 350.91h-1.1M28.6 348.59h1.1M250.8 348.59h-1.1M28.6 346.63h1.1M250.8 346.63h-1.1M28.6 344.93h1.1M250.8 344.93h-1.1M28.6 343.44h1.1M250.8 343.44h-1.1M28.6 371.35h2.2M250.8 371.35h-2.2M28.6 391.79h1.1M250.8 391.79h-1.1M28.6 386.64h1.1M250.8 386.64h-1.1M28.6 382.99h1.1M250.8 382.99h-1.1M28.6 380.16h1.1M250.8 380.16h-1.1M28.6 377.84h1.1M250.8 377.84h-1.1M28.6 375.88h1.1M250.8 375.88h-1.1M28.6 374.18h1.1M250.8 374.18h-1.1M28.6 372.69h1.1M250.8 372.69h-1.1M28.6 400.6h2.2M250.8 400.6h-2.2"/>
</g>
<g font-family="Liberation Sans, Arial, Helvetica, sans-serif" fill="#262626" stroke="#262626" stroke-width="0.2" font-size="7.2">
<text x="28.6" y="410.1" text-anchor="middle">0</text>
<text x="60.34" y="410.1" text-anchor="middle">2</text>
<text x="92.09" y="410.1" text-anchor="middle">4</text>
<text x="123.83" y="410.1" text-anchor="middle">6</text>
<text x="155.57" y="410.1" text-anchor="middle">8</text>
<text x="187.31" y="410.1" text-anchor="middle">10</text>
<text x="219.06" y="410.1" text-anchor="middle">12</text>
<text x="250.8" y="410.1" text-anchor="middle">14</text>
<text x="25.3" y="228.3" text-anchor="end">10<tspan font-size="5.2" dy="-3.3">0</tspan></text>
<text x="25.3" y="257.55" text-anchor="end">10<tspan font-size="5.2" dy="-3.3">-1</tspan></text>
<text x="25.3" y="286.8" text-anchor="end">10<tspan font-size="5.2" dy="-3.3">-2</tspan></text>
<text x="25.3" y="316.05" text-anchor="end">10<tspan font-size="5.2" dy="-3.3">-3</tspan></text>
<text x="25.3" y="345.3" text-anchor="end">10<tspan font-size="5.2" dy="-3.3">-4</tspan></text>
<text x="25.3" y="374.55" text-anchor="end">10<tspan font-size="5.2" dy="-3.3">-5</tspan></text>
<text x="25.3" y="403.8" text-anchor="end">10<tspan font-size="5.2" dy="-3.3">-6</tspan></text>
</g>
<g font-family="Liberation Sans, Arial, Helvetica, sans-serif" fill="#262626" stroke="#262626" stroke-width="0.2" font-size="7.8">
<text x="139.7" y="420.2" text-anchor="middle">CPU</text>
<text transform="translate(8.7 312.85) rotate(-90)" text-anchor="middle">Tolerance</text>
</g>
<polyline points="28.6,225.1 43.8,254.35 69.2,283.6 104.5,312.85 142.7,342.1 185,371.35 229,400.6" fill="none" stroke="#0072BD" stroke-width="1.38" stroke-linejoin="round"/>
<circle cx="28.6" cy="225.1" r="2.1" fill="none" stroke="#0072BD" stroke-width="1.38"/>
<circle cx="43.8" cy="254.35" r="2.1" fill="none" stroke="#0072BD" stroke-width="1.38"/>
<circle cx="69.2" cy="283.6" r="2.1" fill="none" stroke="#0072BD" stroke-width="1.38"/>
<circle cx="104.5" cy="312.85" r="2.1" fill="none" stroke="#0072BD" stroke-width="1.38"/>
<circle cx="142.7" cy="342.1" r="2.1" fill="none" stroke="#0072BD" stroke-width="1.38"/>
<circle cx="185" cy="371.35" r="2.1" fill="none" stroke="#0072BD" stroke-width="1.38"/>
<circle cx="229" cy="400.6" r="2.1" fill="none" stroke="#0072BD" stroke-width="1.38"/>
<polyline points="28.6,225.1 38.3,254.35 46.8,283.6 60.5,312.85 77.7,342.1 94.8,371.35 113,400.6" fill="none" stroke="#D95319" stroke-width="1.38" stroke-linejoin="round"/>
<path d="M26.35 225.1H30.85M28.6 222.85V227.35" stroke="#D95319" stroke-width="1.15" fill="none"/>
<path d="M36.05 254.35H40.55M38.3 252.1V256.6" stroke="#D95319" stroke-width="1.15" fill="none"/>
<path d="M44.55 283.6H49.05M46.8 281.35V285.85" stroke="#D95319" stroke-width="1.15" fill="none"/>
<path d="M58.25 312.85H62.75M60.5 310.6V315.1" stroke="#D95319" stroke-width="1.15" fill="none"/>
<path d="M75.45 342.1H79.95M77.7 339.85V344.35" stroke="#D95319" stroke-width="1.15" fill="none"/>
<path d="M92.55 371.35H97.05M94.8 369.1V373.6" stroke="#D95319" stroke-width="1.15" fill="none"/>
<path d="M110.75 400.6H115.25M113 398.35V402.85" stroke="#D95319" stroke-width="1.15" fill="none"/>
<polyline points="28.6,225.1 34.6,254.35 41.2,283.6 50.4,312.85 60.5,342.1 72.7,371.35 83,400.6" fill="none" stroke="#EDB120" stroke-width="1.38" stroke-linejoin="round"/>
<polyline points="28.6,225.1 33.4,254.35 39.5,283.6 46.3,312.85 53.2,342.1 63.9,371.35 71.8,400.6" fill="none" stroke="#7E2F8E" stroke-width="1.38" stroke-linejoin="round" stroke-dasharray="3.6 2.4"/>
<polyline points="28.6,225.1 33.4,254.35 39.2,283.6 45.3,312.85 51.8,342.1 59.4,371.35 66.5,400.6" fill="none" stroke="#77AC30" stroke-width="1.38" stroke-linejoin="round"/>
<polygon points="28.6,222.1 29.27,224.17 31.45,224.17 29.69,225.45 30.36,227.53 28.6,226.25 26.84,227.53 27.51,225.45 25.75,224.17 27.93,224.17" fill="#77AC30" stroke="#77AC30" stroke-width="0.9" stroke-linejoin="miter"/>
<polygon points="33.4,251.35 34.07,253.42 36.25,253.42 34.49,254.7 35.16,256.78 33.4,255.5 31.64,256.78 32.31,254.7 30.55,253.42 32.73,253.42" fill="#77AC30" stroke="#77AC30" stroke-width="0.9" stroke-linejoin="miter"/>
<polygon points="39.2,280.6 39.87,282.67 42.05,282.67 40.29,283.95 40.96,286.03 39.2,284.75 37.44,286.03 38.11,283.95 36.35,282.67 38.53,282.67" fill="#77AC30" stroke="#77AC30" stroke-width="0.9" stroke-linejoin="miter"/>
<polygon points="45.3,309.85 45.97,311.92 48.15,311.92 46.39,313.2 47.06,315.28 45.3,314 43.54,315.28 44.21,313.2 42.45,311.92 44.63,311.92" fill="#77AC30" stroke="#77AC30" stroke-width="0.9" stroke-linejoin="miter"/>
<polygon points="51.8,339.1 52.47,341.17 54.65,341.17 52.89,342.45 53.56,344.53 51.8,343.25 50.04,344.53 50.71,342.45 48.95,341.17 51.13,341.17" fill="#77AC30" stroke="#77AC30" stroke-width="0.9" stroke-linejoin="miter"/>
<polygon points="59.4,368.35 60.07,370.42 62.25,370.42 60.49,371.7 61.16,373.78 59.4,372.5 57.64,373.78 58.31,371.7 56.55,370.42 58.73,370.42" fill="#77AC30" stroke="#77AC30" stroke-width="0.9" stroke-linejoin="miter"/>
<polygon points="66.5,397.6 67.17,399.67 69.35,399.67 67.59,400.95 68.26,403.03 66.5,401.75 64.74,403.03 65.41,400.95 63.65,399.67 65.83,399.67" fill="#77AC30" stroke="#77AC30" stroke-width="0.9" stroke-linejoin="miter"/>
<polyline points="28.6,225.1 36,254.35 42.7,283.6 47.8,312.85 54.8,342.1 61.6,371.35 67.9,400.6" fill="none" stroke="#4DBEEE" stroke-width="1.38" stroke-linejoin="round"/>
<polyline points="28.6,225.1 39.8,254.35 49.6,283.6 59.9,312.85 69.7,342.1 79.8,371.35 90,400.6" fill="none" stroke="#A2142F" stroke-width="1.38" stroke-linejoin="round"/>
<path d="M28.6 222.6L30.7 225.1L28.6 227.6L26.5 225.1Z" fill="#d4909b" stroke="#A2142F" stroke-width="1.38" stroke-linejoin="miter"/>
<path d="M39.8 251.85L41.9 254.35L39.8 256.85L37.7 254.35Z" fill="#d4909b" stroke="#A2142F" stroke-width="1.38" stroke-linejoin="miter"/>
<path d="M49.6 281.1L51.7 283.6L49.6 286.1L47.5 283.6Z" fill="#d4909b" stroke="#A2142F" stroke-width="1.38" stroke-linejoin="miter"/>
<path d="M59.9 310.35L62 312.85L59.9 315.35L57.8 312.85Z" fill="#d4909b" stroke="#A2142F" stroke-width="1.38" stroke-linejoin="miter"/>
<path d="M69.7 339.6L71.8 342.1L69.7 344.6L67.6 342.1Z" fill="#d4909b" stroke="#A2142F" stroke-width="1.38" stroke-linejoin="miter"/>
<path d="M79.8 368.85L81.9 371.35L79.8 373.85L77.7 371.35Z" fill="#d4909b" stroke="#A2142F" stroke-width="1.38" stroke-linejoin="miter"/>
<path d="M90 398.1L92.1 400.6L90 403.1L87.9 400.6Z" fill="#d4909b" stroke="#A2142F" stroke-width="1.38" stroke-linejoin="miter"/>
<rect x="187.2" y="230.2" width="58.2" height="78.3" fill="#fff" stroke="#999999" stroke-width="1.0"/>
<path d="M190.2 236.7H210.6" stroke="#0072BD" stroke-width="1.38"/>
<circle cx="200.3" cy="236.7" r="2.1" fill="none" stroke="#0072BD" stroke-width="1.38"/>
<text font-family="Liberation Sans, Arial, Helvetica, sans-serif" font-size="6.2" fill="#000" stroke="#000" stroke-width="0.15" y="239"><tspan x="211.5" font-size="6.5" textLength="4.3" lengthAdjust="spacingAndGlyphs">α</tspan><tspan x="216.2">=0.5N</tspan><tspan x="232.7" dy="2.0" font-size="4.7">3</tspan><tspan x="236" dy="-2.0">/</tspan><tspan x="238.3">ξ</tspan><tspan x="241.4" dy="2.0" font-size="4.7">1</tspan></text>
<path d="M190.2 247.63H210.6" stroke="#D95319" stroke-width="1.38"/>
<path d="M198.05 247.63H202.55M200.3 245.38V249.88" stroke="#D95319" stroke-width="1.15" fill="none"/>
<text font-family="Liberation Sans, Arial, Helvetica, sans-serif" font-size="6.2" fill="#000" stroke="#000" stroke-width="0.15" y="249.93"><tspan x="211.5" font-size="6.5" textLength="4.3" lengthAdjust="spacingAndGlyphs">α</tspan><tspan x="216.2">=1.2N</tspan><tspan x="232.7" dy="2.0" font-size="4.7">3</tspan><tspan x="236" dy="-2.0">/</tspan><tspan x="238.3">ξ</tspan><tspan x="241.4" dy="2.0" font-size="4.7">1</tspan></text>
<path d="M190.2 258.56H210.6" stroke="#EDB120" stroke-width="1.38"/>
<text font-family="Liberation Sans, Arial, Helvetica, sans-serif" font-size="6.2" fill="#000" stroke="#000" stroke-width="0.15" y="260.86"><tspan x="211.5" font-size="6.5" textLength="4.3" lengthAdjust="spacingAndGlyphs">α</tspan><tspan x="216.2">=1.9N</tspan><tspan x="232.7" dy="2.0" font-size="4.7">3</tspan><tspan x="236" dy="-2.0">/</tspan><tspan x="238.3">ξ</tspan><tspan x="241.4" dy="2.0" font-size="4.7">1</tspan></text>
<path d="M190.2 269.49H210.6" stroke="#7E2F8E" stroke-width="1.38" stroke-dasharray="3.6 2.4"/>
<text font-family="Liberation Sans, Arial, Helvetica, sans-serif" font-size="6.2" fill="#000" stroke="#000" stroke-width="0.15" y="271.79"><tspan x="211.5" font-size="6.5" textLength="4.3" lengthAdjust="spacingAndGlyphs">α</tspan><tspan x="216.2">=2.4N</tspan><tspan x="232.7" dy="2.0" font-size="4.7">3</tspan><tspan x="236" dy="-2.0">/</tspan><tspan x="238.3">ξ</tspan><tspan x="241.4" dy="2.0" font-size="4.7">1</tspan></text>
<path d="M190.2 280.42H210.6" stroke="#77AC30" stroke-width="1.38"/>
<polygon points="200.3,277.42 200.97,279.49 203.15,279.49 201.39,280.77 202.06,282.85 200.3,281.57 198.54,282.85 199.21,280.77 197.45,279.49 199.63,279.49" fill="#77AC30" stroke="#77AC30" stroke-width="0.9" stroke-linejoin="miter"/>
<text font-family="Liberation Sans, Arial, Helvetica, sans-serif" font-size="6.2" fill="#000" stroke="#000" stroke-width="0.15" y="282.72"><tspan x="211.5" font-size="6.5" textLength="4.3" lengthAdjust="spacingAndGlyphs">α</tspan><tspan x="216.2">=2.8N</tspan><tspan x="232.7" dy="2.0" font-size="4.7">3</tspan><tspan x="236" dy="-2.0">/</tspan><tspan x="238.3">ξ</tspan><tspan x="241.4" dy="2.0" font-size="4.7">1</tspan></text>
<path d="M190.2 291.35H210.6" stroke="#4DBEEE" stroke-width="1.38"/>
<text font-family="Liberation Sans, Arial, Helvetica, sans-serif" font-size="6.2" fill="#000" stroke="#000" stroke-width="0.15" y="293.65"><tspan x="211.5" font-size="6.5" textLength="4.3" lengthAdjust="spacingAndGlyphs">α</tspan><tspan x="216.2">=3.3N</tspan><tspan x="232.7" dy="2.0" font-size="4.7">3</tspan><tspan x="236" dy="-2.0">/</tspan><tspan x="238.3">ξ</tspan><tspan x="241.4" dy="2.0" font-size="4.7">1</tspan></text>
<path d="M190.2 302.28H210.6" stroke="#A2142F" stroke-width="1.38"/>
<path d="M200.3 299.78L202.4 302.28L200.3 304.78L198.2 302.28Z" fill="#d4909b" stroke="#A2142F" stroke-width="1.38" stroke-linejoin="miter"/>
<text font-family="Liberation Sans, Arial, Helvetica, sans-serif" font-size="6.2" fill="#000" stroke="#000" stroke-width="0.15" y="304.58"><tspan x="211.5" font-size="6.5" textLength="4.3" lengthAdjust="spacingAndGlyphs">α</tspan><tspan x="216.2">=3.5N</tspan><tspan x="232.7" dy="2.0" font-size="4.7">3</tspan><tspan x="236" dy="-2.0">/</tspan><tspan x="238.3">ξ</tspan><tspan x="241.4" dy="2.0" font-size="4.7">1</tspan></text>
<g stroke="#999999" stroke-width="1.0" fill="none">
<path d="M318.3 224.6V401.1" stroke="#858585"/>
<path d="M318.3 225.1H540.9M318.3 400.6H540.9" stroke="#a4a4a4"/>
<path d="M540.4 225.1V400.6" stroke="#adadad"/>
<path d="M318.3 400.6v-2.2M318.3 225.1v2.2M346.06 400.6v-2.2M346.06 225.1v2.2M373.82 400.6v-2.2M373.82 225.1v2.2M401.59 400.6v-2.2M401.59 225.1v2.2M429.35 400.6v-2.2M429.35 225.1v2.2M457.11 400.6v-2.2M457.11 225.1v2.2M484.88 400.6v-2.2M484.88 225.1v2.2M512.64 400.6v-2.2M512.64 225.1v2.2M540.4 400.6v-2.2M540.4 225.1v2.2M318.3 225.1h2.2M540.4 225.1h-2.2M318.3 245.54h1.1M540.4 245.54h-1.1M318.3 240.39h1.1M540.4 240.39h-1.1M318.3 236.74h1.1M540.4 236.74h-1.1M318.3 233.91h1.1M540.4 233.91h-1.1M318.3 231.59h1.1M540.4 231.59h-1.1M318.3 229.63h1.1M540.4 229.63h-1.1M318.3 227.93h1.1M540.4 227.93h-1.1M318.3 226.44h1.1M540.4 226.44h-1.1M318.3 254.35h2.2M540.4 254.35h-2.2M318.3 274.79h1.1M540.4 274.79h-1.1M318.3 269.64h1.1M540.4 269.64h-1.1M318.3 265.99h1.1M540.4 265.99h-1.1M318.3 263.16h1.1M540.4 263.16h-1.1M318.3 260.84h1.1M540.4 260.84h-1.1M318.3 258.88h1.1M540.4 258.88h-1.1M318.3 257.18h1.1M540.4 257.18h-1.1M318.3 255.69h1.1M540.4 255.69h-1.1M318.3 283.6h2.2M540.4 283.6h-2.2M318.3 304.04h1.1M540.4 304.04h-1.1M318.3 298.89h1.1M540.4 298.89h-1.1M318.3 295.24h1.1M540.4 295.24h-1.1M318.3 292.41h1.1M540.4 292.41h-1.1M318.3 290.09h1.1M540.4 290.09h-1.1M318.3 288.13h1.1M540.4 288.13h-1.1M318.3 286.43h1.1M540.4 286.43h-1.1M318.3 284.94h1.1M540.4 284.94h-1.1M318.3 312.85h2.2M540.4 312.85h-2.2M318.3 333.29h1.1M540.4 333.29h-1.1M318.3 328.14h1.1M540.4 328.14h-1.1M318.3 324.49h1.1M540.4 324.49h-1.1M318.3 321.66h1.1M540.4 321.66h-1.1M318.3 319.34h1.1M540.4 319.34h-1.1M318.3 317.38h1.1M540.4 317.38h-1.1M318.3 315.68h1.1M540.4 315.68h-1.1M318.3 314.19h1.1M540.4 314.19h-1.1M318.3 342.1h2.2M540.4 342.1h-2.2M318.3 362.54h1.1M540.4 362.54h-1.1M318.3 357.39h1.1M540.4 357.39h-1.1M318.3 353.74h1.1M540.4 353.74h-1.1M318.3 350.91h1.1M540.4 350.91h-1.1M318.3 348.59h1.1M540.4 348.59h-1.1M318.3 346.63h1.1M540.4 346.63h-1.1M318.3 344.93h1.1M540.4 344.93h-1.1M318.3 343.44h1.1M540.4 343.44h-1.1M318.3 371.35h2.2M540.4 371.35h-2.2M318.3 391.79h1.1M540.4 391.79h-1.1M318.3 386.64h1.1M540.4 386.64h-1.1M318.3 382.99h1.1M540.4 382.99h-1.1M318.3 380.16h1.1M540.4 380.16h-1.1M318.3 377.84h1.1M540.4 377.84h-1.1M318.3 375.88h1.1M540.4 375.88h-1.1M318.3 374.18h1.1M540.4 374.18h-1.1M318.3 372.69h1.1M540.4 372.69h-1.1M318.3 400.6h2.2M540.4 400.6h-2.2"/>
</g>
<g font-family="Liberation Sans, Arial, Helvetica, sans-serif" fill="#262626" stroke="#262626" stroke-width="0.2" font-size="7.2">
<text x="318.3" y="410.1" text-anchor="middle">0</text>
<text x="346.06" y="410.1" text-anchor="middle">50</text>
<text x="373.82" y="410.1" text-anchor="middle">100</text>
<text x="401.59" y="410.1" text-anchor="middle">150</text>
<text x="429.35" y="410.1" text-anchor="middle">200</text>
<text x="457.11" y="410.1" text-anchor="middle">250</text>
<text x="484.88" y="410.1" text-anchor="middle">300</text>
<text x="512.64" y="410.1" text-anchor="middle">350</text>
<text x="540.4" y="410.1" text-anchor="middle">400</text>
<text x="315" y="228.3" text-anchor="end">10<tspan font-size="5.2" dy="-3.3">0</tspan></text>
<text x="315" y="257.55" text-anchor="end">10<tspan font-size="5.2" dy="-3.3">-1</tspan></text>
<text x="315" y="286.8" text-anchor="end">10<tspan font-size="5.2" dy="-3.3">-2</tspan></text>
<text x="315" y="316.05" text-anchor="end">10<tspan font-size="5.2" dy="-3.3">-3</tspan></text>
<text x="315" y="345.3" text-anchor="end">10<tspan font-size="5.2" dy="-3.3">-4</tspan></text>
<text x="315" y="374.55" text-anchor="end">10<tspan font-size="5.2" dy="-3.3">-5</tspan></text>
<text x="315" y="403.8" text-anchor="end">10<tspan font-size="5.2" dy="-3.3">-6</tspan></text>
</g>
<g font-family="Liberation Sans, Arial, Helvetica, sans-serif" fill="#262626" stroke="#262626" stroke-width="0.2" font-size="7.8">
<text x="429.35" y="420.2" text-anchor="middle">IT</text>
<text transform="translate(298.5 312.85) rotate(-90)" text-anchor="middle">Tolerance</text>
</g>
<polyline points="318.3,225.1 333.1,254.35 361.5,283.6 399.6,312.85 443.7,342.1 491.3,371.35 539.8,400.6" fill="none" stroke="#0072BD" stroke-width="1.38" stroke-linejoin="round"/>
<circle cx="318.3" cy="225.1" r="2.1" fill="none" stroke="#0072BD" stroke-width="1.38"/>
<circle cx="333.1" cy="254.35" r="2.1" fill="none" stroke="#0072BD" stroke-width="1.38"/>
<circle cx="361.5" cy="283.6" r="2.1" fill="none" stroke="#0072BD" stroke-width="1.38"/>
<circle cx="399.6" cy="312.85" r="2.1" fill="none" stroke="#0072BD" stroke-width="1.38"/>
<circle cx="443.7" cy="342.1" r="2.1" fill="none" stroke="#0072BD" stroke-width="1.38"/>
<circle cx="491.3" cy="371.35" r="2.1" fill="none" stroke="#0072BD" stroke-width="1.38"/>
<circle cx="539.8" cy="400.6" r="2.1" fill="none" stroke="#0072BD" stroke-width="1.38"/>
<polyline points="318.3,225.1 327.3,254.35 336.6,283.6 353,312.85 370.8,342.1 390.3,371.35 410.9,400.6" fill="none" stroke="#D95319" stroke-width="1.38" stroke-linejoin="round"/>
<path d="M316.05 225.1H320.55M318.3 222.85V227.35" stroke="#D95319" stroke-width="1.15" fill="none"/>
<path d="M325.05 254.35H329.55M327.3 252.1V256.6" stroke="#D95319" stroke-width="1.15" fill="none"/>
<path d="M334.35 283.6H338.85M336.6 281.35V285.85" stroke="#D95319" stroke-width="1.15" fill="none"/>
<path d="M350.75 312.85H355.25M353 310.6V315.1" stroke="#D95319" stroke-width="1.15" fill="none"/>
<path d="M368.55 342.1H373.05M370.8 339.85V344.35" stroke="#D95319" stroke-width="1.15" fill="none"/>
<path d="M388.05 371.35H392.55M390.3 369.1V373.6" stroke="#D95319" stroke-width="1.15" fill="none"/>
<path d="M408.65 400.6H413.15M410.9 398.35V402.85" stroke="#D95319" stroke-width="1.15" fill="none"/>
<polyline points="318.3,225.1 323.6,254.35 330.2,283.6 340.5,312.85 353,342.1 364.6,371.35 376.5,400.6" fill="none" stroke="#EDB120" stroke-width="1.38" stroke-linejoin="round"/>
<polyline points="318.3,225.1 322.2,254.35 328.3,283.6 335.7,312.85 345,342.1 355,371.35 364.6,400.6" fill="none" stroke="#7E2F8E" stroke-width="1.38" stroke-linejoin="round" stroke-dasharray="3.6 2.4"/>
<polyline points="318.3,225.1 322.2,254.35 328.1,283.6 334.8,312.85 342.3,342.1 350.7,371.35 359.2,400.6" fill="none" stroke="#77AC30" stroke-width="1.38" stroke-linejoin="round"/>
<polygon points="318.3,222.1 318.97,224.17 321.15,224.17 319.39,225.45 320.06,227.53 318.3,226.25 316.54,227.53 317.21,225.45 315.45,224.17 317.63,224.17" fill="#77AC30" stroke="#77AC30" stroke-width="0.9" stroke-linejoin="miter"/>
<polygon points="322.2,251.35 322.87,253.42 325.05,253.42 323.29,254.7 323.96,256.78 322.2,255.5 320.44,256.78 321.11,254.7 319.35,253.42 321.53,253.42" fill="#77AC30" stroke="#77AC30" stroke-width="0.9" stroke-linejoin="miter"/>
<polygon points="328.1,280.6 328.77,282.67 330.95,282.67 329.19,283.95 329.86,286.03 328.1,284.75 326.34,286.03 327.01,283.95 325.25,282.67 327.43,282.67" fill="#77AC30" stroke="#77AC30" stroke-width="0.9" stroke-linejoin="miter"/>
<polygon points="334.8,309.85 335.47,311.92 337.65,311.92 335.89,313.2 336.56,315.28 334.8,314 333.04,315.28 333.71,313.2 331.95,311.92 334.13,311.92" fill="#77AC30" stroke="#77AC30" stroke-width="0.9" stroke-linejoin="miter"/>
<polygon points="342.3,339.1 342.97,341.17 345.15,341.17 343.39,342.45 344.06,344.53 342.3,343.25 340.54,344.53 341.21,342.45 339.45,341.17 341.63,341.17" fill="#77AC30" stroke="#77AC30" stroke-width="0.9" stroke-linejoin="miter"/>
<polygon points="350.7,368.35 351.37,370.42 353.55,370.42 351.79,371.7 352.46,373.78 350.7,372.5 348.94,373.78 349.61,371.7 347.85,370.42 350.03,370.42" fill="#77AC30" stroke="#77AC30" stroke-width="0.9" stroke-linejoin="miter"/>
<polygon points="359.2,397.6 359.87,399.67 362.05,399.67 360.29,400.95 360.96,403.03 359.2,401.75 357.44,403.03 358.11,400.95 356.35,399.67 358.53,399.67" fill="#77AC30" stroke="#77AC30" stroke-width="0.9" stroke-linejoin="miter"/>
<polyline points="318.3,225.1 325,254.35 331.8,283.6 339.2,312.85 345.3,342.1 353.5,371.35 361.6,400.6" fill="none" stroke="#4DBEEE" stroke-width="1.38" stroke-linejoin="round"/>
<polyline points="318.3,225.1 328.8,254.35 339.5,283.6 351,312.85 362.6,342.1 373.3,371.35 384.4,400.6" fill="none" stroke="#A2142F" stroke-width="1.38" stroke-linejoin="round"/>
<path d="M318.3 222.6L320.4 225.1L318.3 227.6L316.2 225.1Z" fill="#d4909b" stroke="#A2142F" stroke-width="1.38" stroke-linejoin="miter"/>
<path d="M328.8 251.85L330.9 254.35L328.8 256.85L326.7 254.35Z" fill="#d4909b" stroke="#A2142F" stroke-width="1.38" stroke-linejoin="miter"/>
<path d="M339.5 281.1L341.6 283.6L339.5 286.1L337.4 283.6Z" fill="#d4909b" stroke="#A2142F" stroke-width="1.38" stroke-linejoin="miter"/>
<path d="M351 310.35L353.1 312.85L351 315.35L348.9 312.85Z" fill="#d4909b" stroke="#A2142F" stroke-width="1.38" stroke-linejoin="miter"/>
<path d="M362.6 339.6L364.7 342.1L362.6 344.6L360.5 342.1Z" fill="#d4909b" stroke="#A2142F" stroke-width="1.38" stroke-linejoin="miter"/>
<path d="M373.3 368.85L375.4 371.35L373.3 373.85L371.2 371.35Z" fill="#d4909b" stroke="#A2142F" stroke-width="1.38" stroke-linejoin="miter"/>
<path d="M384.4 398.1L386.5 400.6L384.4 403.1L382.3 400.6Z" fill="#d4909b" stroke="#A2142F" stroke-width="1.38" stroke-linejoin="miter"/>
<rect x="476.8" y="230.2" width="58.2" height="78.3" fill="#fff" stroke="#999999" stroke-width="1.0"/>
<path d="M479.8 236.7H500.2" stroke="#0072BD" stroke-width="1.38"/>
<circle cx="489.9" cy="236.7" r="2.1" fill="none" stroke="#0072BD" stroke-width="1.38"/>
<text font-family="Liberation Sans, Arial, Helvetica, sans-serif" font-size="6.2" fill="#000" stroke="#000" stroke-width="0.15" y="239"><tspan x="501.1" font-size="6.5" textLength="4.3" lengthAdjust="spacingAndGlyphs">α</tspan><tspan x="505.8">=0.5N</tspan><tspan x="522.3" dy="2.0" font-size="4.7">3</tspan><tspan x="525.6" dy="-2.0">/</tspan><tspan x="527.9">ξ</tspan><tspan x="531" dy="2.0" font-size="4.7">1</tspan></text>
<path d="M479.8 247.63H500.2" stroke="#D95319" stroke-width="1.38"/>
<path d="M487.65 247.63H492.15M489.9 245.38V249.88" stroke="#D95319" stroke-width="1.15" fill="none"/>
<text font-family="Liberation Sans, Arial, Helvetica, sans-serif" font-size="6.2" fill="#000" stroke="#000" stroke-width="0.15" y="249.93"><tspan x="501.1" font-size="6.5" textLength="4.3" lengthAdjust="spacingAndGlyphs">α</tspan><tspan x="505.8">=1.2N</tspan><tspan x="522.3" dy="2.0" font-size="4.7">3</tspan><tspan x="525.6" dy="-2.0">/</tspan><tspan x="527.9">ξ</tspan><tspan x="531" dy="2.0" font-size="4.7">1</tspan></text>
<path d="M479.8 258.56H500.2" stroke="#EDB120" stroke-width="1.38"/>
<text font-family="Liberation Sans, Arial, Helvetica, sans-serif" font-size="6.2" fill="#000" stroke="#000" stroke-width="0.15" y="260.86"><tspan x="501.1" font-size="6.5" textLength="4.3" lengthAdjust="spacingAndGlyphs">α</tspan><tspan x="505.8">=1.9N</tspan><tspan x="522.3" dy="2.0" font-size="4.7">3</tspan><tspan x="525.6" dy="-2.0">/</tspan><tspan x="527.9">ξ</tspan><tspan x="531" dy="2.0" font-size="4.7">1</tspan></text>
<path d="M479.8 269.49H500.2" stroke="#7E2F8E" stroke-width="1.38" stroke-dasharray="3.6 2.4"/>
<text font-family="Liberation Sans, Arial, Helvetica, sans-serif" font-size="6.2" fill="#000" stroke="#000" stroke-width="0.15" y="271.79"><tspan x="501.1" font-size="6.5" textLength="4.3" lengthAdjust="spacingAndGlyphs">α</tspan><tspan x="505.8">=2.4N</tspan><tspan x="522.3" dy="2.0" font-size="4.7">3</tspan><tspan x="525.6" dy="-2.0">/</tspan><tspan x="527.9">ξ</tspan><tspan x="531" dy="2.0" font-size="4.7">1</tspan></text>
<path d="M479.8 280.42H500.2" stroke="#77AC30" stroke-width="1.38"/>
<polygon points="489.9,277.42 490.57,279.49 492.75,279.49 490.99,280.77 491.66,282.85 489.9,281.57 488.14,282.85 488.81,280.77 487.05,279.49 489.23,279.49" fill="#77AC30" stroke="#77AC30" stroke-width="0.9" stroke-linejoin="miter"/>
<text font-family="Liberation Sans, Arial, Helvetica, sans-serif" font-size="6.2" fill="#000" stroke="#000" stroke-width="0.15" y="282.72"><tspan x="501.1" font-size="6.5" textLength="4.3" lengthAdjust="spacingAndGlyphs">α</tspan><tspan x="505.8">=2.8N</tspan><tspan x="522.3" dy="2.0" font-size="4.7">3</tspan><tspan x="525.6" dy="-2.0">/</tspan><tspan x="527.9">ξ</tspan><tspan x="531" dy="2.0" font-size="4.7">1</tspan></text>
<path d="M479.8 291.35H500.2" stroke="#4DBEEE" stroke-width="1.38"/>
<text font-family="Liberation Sans, Arial, Helvetica, sans-serif" font-size="6.2" fill="#000" stroke="#000" stroke-width="0.15" y="293.65"><tspan x="501.1" font-size="6.5" textLength="4.3" lengthAdjust="spacingAndGlyphs">α</tspan><tspan x="505.8">=3.3N</tspan><tspan x="522.3" dy="2.0" font-size="4.7">3</tspan><tspan x="525.6" dy="-2.0">/</tspan><tspan x="527.9">ξ</tspan><tspan x="531" dy="2.0" font-size="4.7">1</tspan></text>
<path d="M479.8 302.28H500.2" stroke="#A2142F" stroke-width="1.38"/>
<path d="M489.9 299.78L492 302.28L489.9 304.78L487.8 302.28Z" fill="#d4909b" stroke="#A2142F" stroke-width="1.38" stroke-linejoin="miter"/>
<text font-family="Liberation Sans, Arial, Helvetica, sans-serif" font-size="6.2" fill="#000" stroke="#000" stroke-width="0.15" y="304.58"><tspan x="501.1" font-size="6.5" textLength="4.3" lengthAdjust="spacingAndGlyphs">α</tspan><tspan x="505.8">=3.5N</tspan><tspan x="522.3" dy="2.0" font-size="4.7">3</tspan><tspan x="525.6" dy="-2.0">/</tspan><tspan x="527.9">ξ</tspan><tspan x="531" dy="2.0" font-size="4.7">1</tspan></text>
</svg>
</body></html>
